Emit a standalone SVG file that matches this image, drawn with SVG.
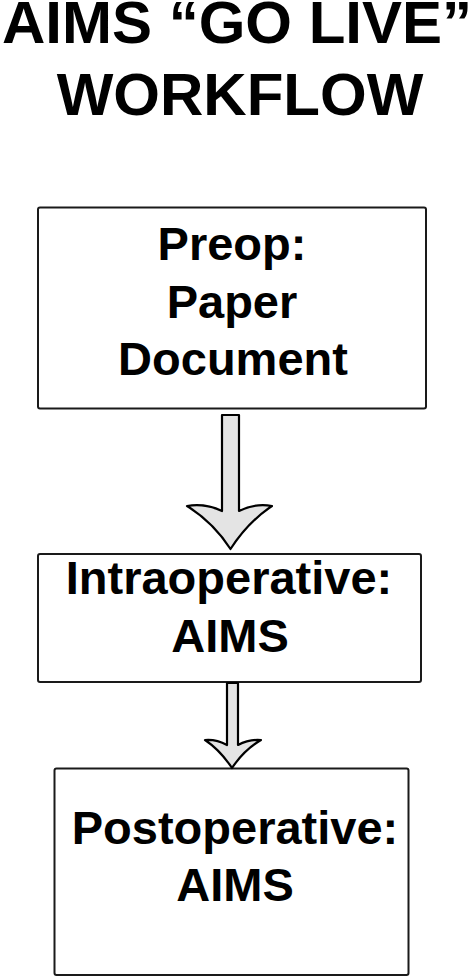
<svg xmlns="http://www.w3.org/2000/svg" width="474" height="977" viewBox="0 0 474 977">
<style>
.t{font-family:"Liberation Sans",Arial,sans-serif;font-weight:bold;fill:#000;text-anchor:middle}
.title{font-size:60px}
.lbl{font-size:47px}
.box{fill:#fff;stroke:#1a1a1a;stroke-width:2}
.arr{fill:#e4e4e4;stroke:#000;stroke-width:2.2;stroke-linejoin:round}
</style>
<rect width="474" height="977" fill="#fff"/>
<g id="title">
<text class="t title" x="237" y="43">AIMS “GO LIVE”</text>
<text class="t title" x="240" y="115">WORKFLOW</text>
</g>
<g id="preop">
<rect class="box" x="38" y="207.5" width="388" height="201" rx="2"/>
<text class="t lbl" x="232" y="260">Preop:</text>
<text class="t lbl" x="232" y="317.5">Paper</text>
<text class="t lbl" x="233" y="375">Document</text>
</g>
<g id="intraop">
<rect class="box" x="38" y="554" width="383" height="128" rx="2"/>
<text class="t lbl" x="229" y="594">Intraoperative:</text>
<text class="t lbl" x="230" y="651.5">AIMS</text>
</g>
<g id="postop">
<rect class="box" x="54.5" y="768.5" width="354" height="206.5" rx="2"/>
<text class="t lbl" x="235" y="844">Postoperative:</text>
<text class="t lbl" x="235" y="901">AIMS</text>
</g>
<g id="connectors">
<path class="arr" d="M222,415 L239,415 L239,511 Q255,503 272,506 Q248,522 230.5,549 Q213,522 187,506 Q205,503 222,511 Z"/>
<path class="arr" d="M227,683 L238,683 L238,745 Q249,739 261,740 Q244,750 232,768 Q220,750 205,740 Q216,739 227,745 Z"/>
</g>
</svg>
